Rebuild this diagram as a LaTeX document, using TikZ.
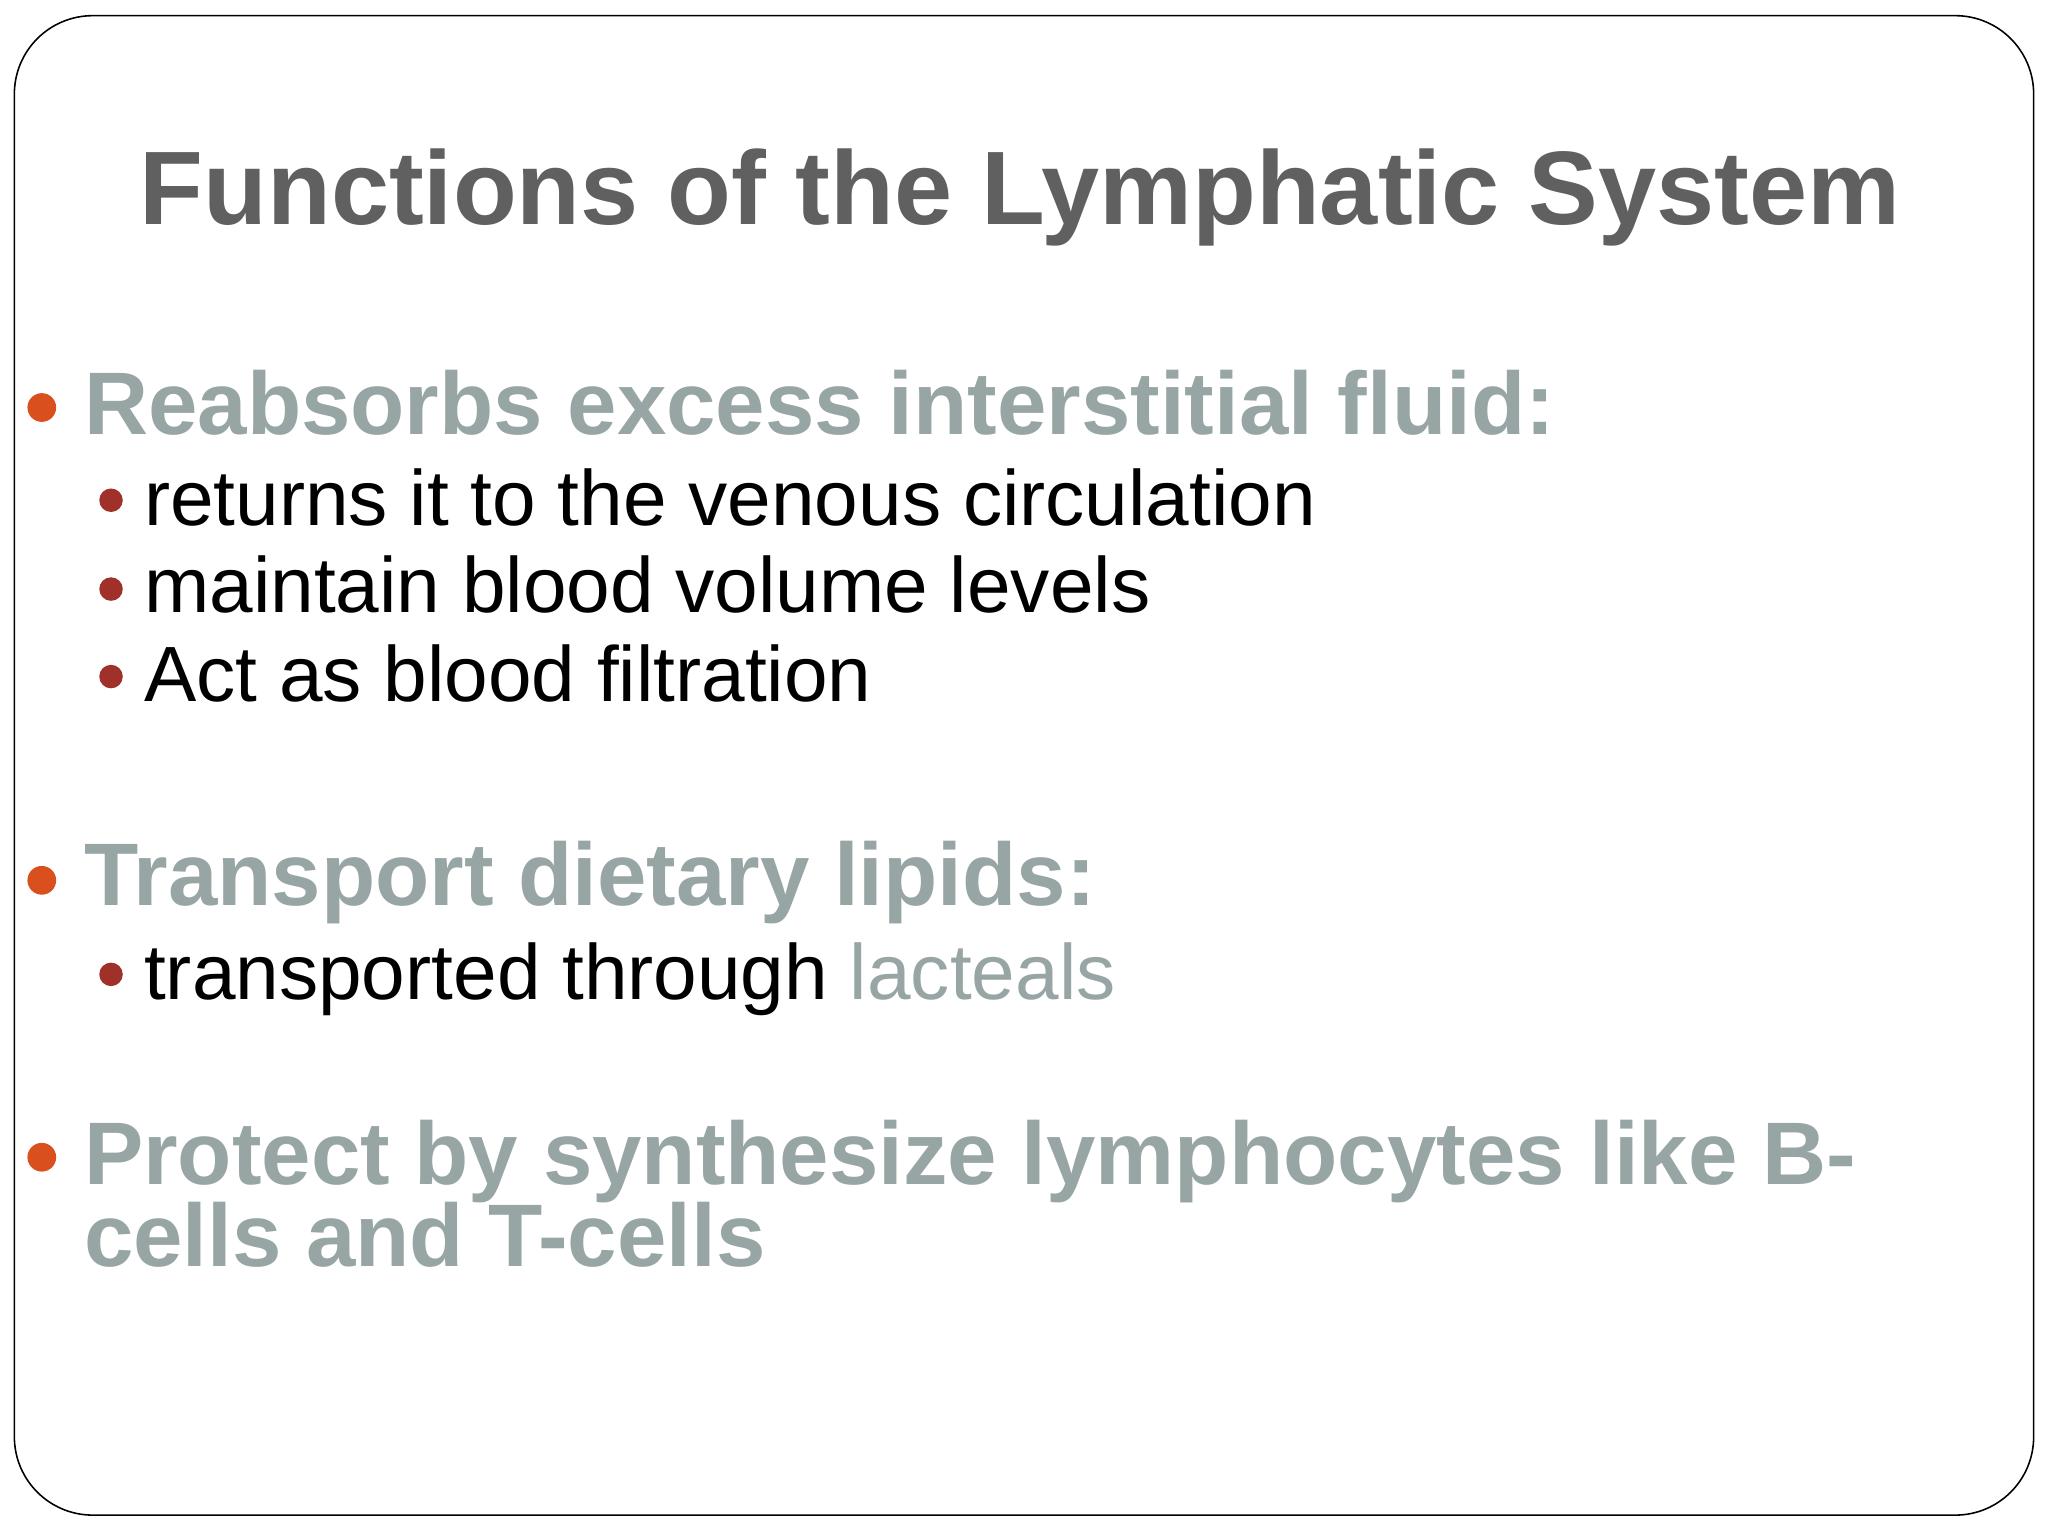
\documentclass[tikz,border=0pt]{standalone}
\usepackage{fontspec}
\setmainfont{Liberation Sans}
\definecolor{titlec}{HTML}{606060}
\definecolor{headc}{HTML}{97A6A4}
\definecolor{bulc}{HTML}{D9501E}
\definecolor{subbc}{HTML}{A0312A}
\begin{document}
\begin{tikzpicture}[x=0.5pt,y=-0.5pt,
  head/.style={anchor=base west,inner sep=0,text=headc,font=\fontsize{34}{32}\selectfont\bfseries},
  sub/.style={anchor=base west,inner sep=0,text=black,font=\fontsize{30}{32}\selectfont},
  bul/.style={circle,fill=bulc,inner sep=0,minimum size=11pt},
  sbul/.style={circle,fill=subbc,inner sep=0,minimum size=9pt}]
\useasboundingbox (0,0) rectangle (1568,1176);
\draw[line width=0.6pt,rounded corners=30pt] (11,12) rectangle (1557,1160);
\node[anchor=base,inner sep=0,text=titlec,font=\fontsize{40}{40}\selectfont\bfseries] (title) at (781,172) {Functions of the Lymphatic System};
\node[bul] (b1) at (32,312) {};
\node[head] (h1) at (64,333) {Reabsorbs excess interstitial fluid:};
\node[sbul] (s1) at (85,383) {};
\node[sub] (t1) at (110,402) {returns it to the venous circulation};
\node[sbul] (s2) at (85,451) {};
\node[sub] (t2) at (110,469) {maintain blood volume levels};
\node[sbul] (s3) at (85,518) {};
\node[sub] (t3) at (110,537) {Act as blood filtration};
\node[bul] (b2) at (32,674) {};
\node[head] (h2) at (64,693) {Transport dietary lipids:};
\node[sbul] (s4) at (85,746) {};
\node[sub] (t4) at (110,765) {transported through \textcolor{headc}{lacteals}};
\node[bul] (b3) at (32,886) {};
\node[head] (h3) at (64,907) {Protect by synthesize lymphocytes like B-};
\node[head] (h4) at (64,970) {cells and T-cells};
\end{tikzpicture}
\end{document}
